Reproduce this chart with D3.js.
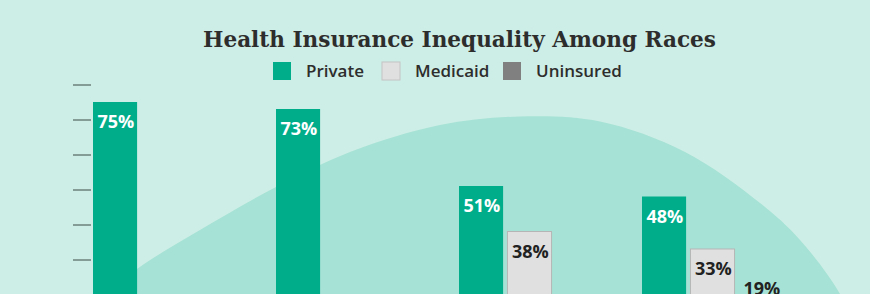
<!DOCTYPE html>
<html>
<head>
<meta charset="utf-8">
<script src="https://cdn.jsdelivr.net/npm/d3@7"></script>
<style>
  body { margin: 0; background: #cdeee6; }
  svg { display: block; }
</style>
</head>
<body>
<div id="chart"></div>
<script>
const width = 870;
const height = 294;

// data (bars below the crop are estimates)
const groups = ["White", "Asian", "Black", "Hispanic"];
const keys = ["Private", "Medicaid", "Uninsured"];
const privateVals = [75, 73, 51, 48];
const medicaidVals = [14, 15, 38, 33];
const uninsuredVals = [8, 7, 11, 19];
const yTicks = [20, 30, 40, 50, 60, 70, 80];

const colors = { Private: "#00ad8b", Medicaid: "#e0e0e0", Uninsured: "#808080" };

const rows = groups.map((g, i) => ({
  group: g,
  values: [
    { key: "Private", value: privateVals[i] },
    { key: "Medicaid", value: medicaidVals[i] },
    { key: "Uninsured", value: uninsuredVals[i] }
  ]
}));

const svg = d3.select("#chart")
  .append("svg")
  .attr("width", width)
  .attr("height", height)

svg.append("rect")
  .attr("width", width)
  .attr("height", height)
  .attr("fill", "#cdeee6")

// big soft blob behind the bars (decoration)
const blob = [[60, 340], [100, 300], [137, 269], [200, 230], [276, 187], [350, 152], [440, 125],
  [520, 116.5], [600, 121.5], [685, 152], [760, 203], [800, 240], [840, 294], [860, 340]];
svg.append("path")
  .attr("d", d3.line().curve(d3.curveCatmullRom)(blob) + "Z")
  .attr("fill", "#a6e2d5")

const y = d3.scaleLinear().domain([0, 100]).range([364.5, 14.5]);
const x0 = d3.scaleBand().domain(groups).range([93, 93 + 183 * groups.length]);
const x1 = d3.scaleBand().domain(keys).range([0, 141]).paddingInner(0.09);

// tick marks only, no labels
svg.append("g")
  .attr("transform", "translate(91,0)")
  .call(d3.axisLeft(y).tickValues(yTicks).tickSize(18).tickFormat(""))
  .call(g => g.select(".domain").remove())
  .call(g => g.selectAll(".tick line").attr("stroke", "#3a4a45"))

const group = svg.selectAll(".group")
  .data(rows)
  .join("g")
    .attr("class", "group")
    .attr("transform", d => `translate(${x0(d.group)},0)`)

group.selectAll("rect")
  .data(d => d.values)
  .join("rect")
    .attr("x", d => x1(d.key))
    .attr("y", d => y(d.value))
    .attr("width", x1.bandwidth())
    .attr("height", d => y(0) - y(d.value))
    .attr("fill", d => colors[d.key])
    .attr("stroke", d => d.key === "Medicaid" ? "#b5b5b5" : "none")

// labels sit inside tall bars, above short ones
group.selectAll("text.val")
  .data(d => d.values)
  .join("text")
    .attr("class", "val")
    .attr("x", d => x1(d.key) + 4.5)
    .attr("y", d => d.value >= 20 ? y(d.value) + 26 : y(d.value) - 3.5)
    .attr("font-family", "'Open Sans', sans-serif")
    .attr("font-weight", 700)
    .attr("font-size", 18)
    .attr("fill", d => d.key === "Private" ? "#fff" : "#222")
    .text(d => d.value + "%")

group.append("text")
  .attr("x", 70)
  .attr("y", y(0) + 22)
  .attr("text-anchor", "middle")
  .attr("font-family", "'Open Sans', sans-serif")
  .attr("font-size", 16)
  .attr("fill", "#333")
  .text(d => d.group)

// title
svg.append("text")
  .attr("x", 459.5)
  .attr("y", 46.5)
  .attr("text-anchor", "middle")
  .attr("font-family", "'DejaVu Serif', serif")
  .attr("font-weight", 700)
  .attr("font-size", 23)
  .attr("fill", "#2d2d2d")
  .attr("textLength", 513)
  .attr("lengthAdjust", "spacingAndGlyphs")
  .text("Health Insurance Inequality Among Races")

// legend
const legendX = [273, 382, 503];
const legend = svg.selectAll(".legend")
  .data(keys)
  .join("g")
    .attr("class", "legend")
    .attr("transform", (d, i) => `translate(${legendX[i]},62)`)

legend.append("rect")
  .attr("width", 18)
  .attr("height", 18)
  .attr("fill", d => colors[d])
  .attr("stroke", d => d === "Medicaid" ? "#c4c4c4" : "none")

legend.append("text")
  .attr("x", 33)
  .attr("y", 15)
  .attr("font-family", "'Open Sans', sans-serif")
  .attr("font-weight", 600)
  .attr("font-size", 17)
  .attr("fill", "#2d2d2d")
  .text(d => d)
</script>
</body>
</html>
